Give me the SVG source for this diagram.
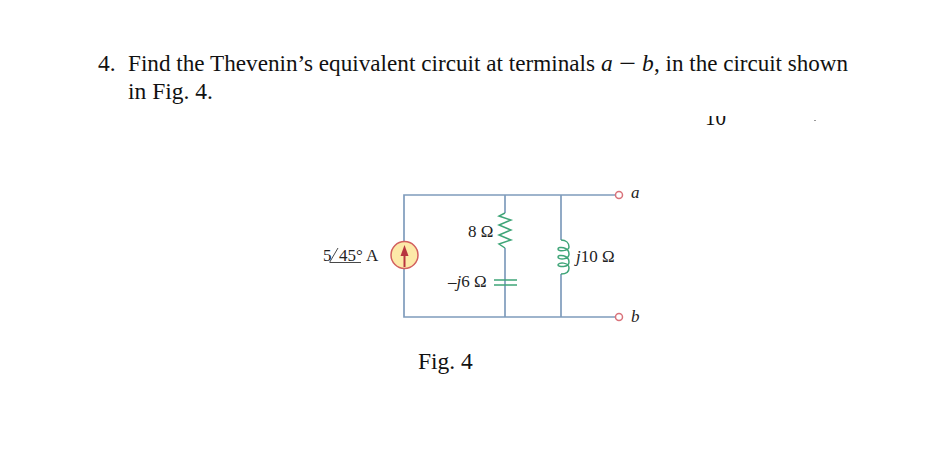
<svg xmlns="http://www.w3.org/2000/svg" width="928" height="451" viewBox="0 0 928 451">
<style>
.q{font-family:"Liberation Serif",serif;font-size:23.5px;fill:#111}
.c{font-family:"Liberation Serif",serif;font-size:17px;fill:#222}
.i{font-style:italic}
.w{fill:none;stroke:#7f9cbc;stroke-width:1.7}
.g{fill:none;stroke:#3fa578;stroke-width:1.5}
.t{fill:#fff;stroke:#d9727a;stroke-width:1.5}
</style>
<defs><clipPath id="cut"><rect x="700" y="116" width="40" height="20"/></clipPath></defs>
<rect width="928" height="451" fill="#fff"/>
<g id="question">
<text class="q" x="98" y="71">4.</text>
<text class="q" x="128" y="71" textLength="467" lengthAdjust="spacingAndGlyphs">Find the Thevenin’s equivalent circuit at terminals</text>
<text class="q i" x="601" y="71">a</text>
<text class="q" x="619" y="71" textLength="17" lengthAdjust="spacingAndGlyphs">−</text>
<text class="q i" x="642" y="71">b</text>
<text class="q" x="654" y="71" textLength="194" lengthAdjust="spacingAndGlyphs">, in the circuit shown</text>
<text class="q" x="128" y="99">in Fig. 4.</text>
<text class="q" x="705" y="125" clip-path="url(#cut)" textLength="21" lengthAdjust="spacingAndGlyphs">10</text>
<rect x="814" y="120" width="2" height="1" fill="#999"/>
</g>
<g id="connectors">
<path class="w" d="M404 241V195H615M404 269V317H615M505 195V213M505 248V317M561 195V240M561 274V317"/>
</g>
<g id="source">
<circle cx="404.500" cy="255" r="13.500" fill="#fde9a8" stroke="#d2605f" stroke-width="1.500"/>
<path d="M404.500 267V250" stroke="#b8343f" stroke-width="2" fill="none"/>
<path d="M404.500 245L400.500 256H408.500Z" fill="#b8343f"/>
<text class="c" x="323" y="261">5</text>
<path d="M329.500 262.500L338 248M330 262.500H361" fill="none" stroke="#333" stroke-width="0.900"/>
<text class="c" x="339" y="261">45° A</text>
</g>
<g id="resistor">
<path class="g" d="M505 213L499 216L511 220L499 225L511 230L499 235L511 240L499 244L505 248"/>
<text class="c" x="468" y="237">8 Ω</text>
</g>
<g id="capacitor">
<path class="g" d="M494 280H517M494 285H517"/>
<text class="c" x="448" y="287">–<tspan class="i">j</tspan>6 Ω</text>
</g>
<g id="inductor">
<path class="g" d="M561 240C566 240 569 243 569 247C569 251 558 252 558 249C558 246 569 247 569 254C569 260 558 260 558 257C558 254 569 255 569 262C569 268 558 267 558 265C558 262 569 262 569 268C569 272 566 274 561 274"/>
<text class="c" x="576" y="262"><tspan class="i">j</tspan>10 Ω</text>
</g>
<g id="terminal-a">
<circle class="t" cx="619" cy="195" r="3.500"/>
<text class="c i" x="631" y="198">a</text>
</g>
<g id="terminal-b">
<circle class="t" cx="619" cy="317" r="3.500"/>
<text class="c i" x="631" y="322">b</text>
</g>
<text id="caption" class="q" x="418" y="369">Fig. 4</text>
</svg>
